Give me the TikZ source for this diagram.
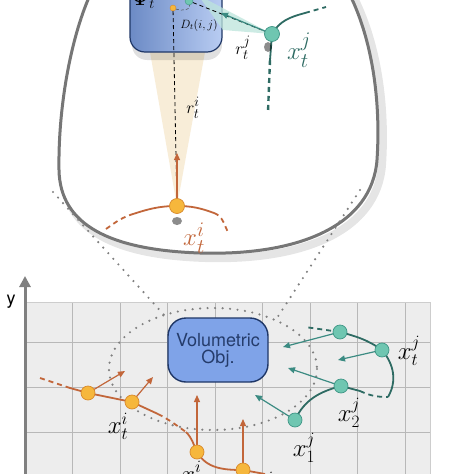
\documentclass[tikz,border=0pt]{standalone}
\usepackage{fontspec}
\newfontfamily\objfont{TeX Gyre Heros}
\usepackage{amsmath}
\usetikzlibrary{arrows.meta, positioning, calc}

\definecolor{trajorange}{HTML}{C2663A}
\definecolor{ptorange}{HTML}{F6B73C}
\definecolor{rimorange}{HTML}{D98A2B}
\definecolor{trajteal}{HTML}{2E6B63}
\definecolor{ptteal}{HTML}{6FC6B1}
\definecolor{rimteal}{HTML}{3F9686}
\definecolor{arrteal}{HTML}{3B8B82}
\definecolor{objblue}{HTML}{7FA3E8}
\definecolor{objedge}{HTML}{1F3767}
\definecolor{objtext}{HTML}{253C6B}
\definecolor{gridbg}{HTML}{EDEDED}
\definecolor{gridline}{HTML}{B8B8B8}
\definecolor{blobgray}{HTML}{767676}
\definecolor{conebeige}{HTML}{F8EDD8}
\definecolor{coneteal}{HTML}{BDE5DC}

\begin{document}
\begin{tikzpicture}[x=1pt, y=-1pt,
  pti/.style={circle, fill=ptorange, draw=rimorange, line width=0.7pt, minimum size=14pt, inner sep=0pt},
  ptj/.style={circle, fill=ptteal, draw=rimteal, line width=0.7pt, minimum size=14pt, inner sep=0pt},
  curvei/.style={draw=trajorange, line width=1.8pt},
  curvej/.style={draw=trajteal, line width=1.8pt},
  dashi/.style={curvei, dash pattern=on 5pt off 4pt},
  dashj/.style={curvej, dash pattern=on 5pt off 4pt},
  veci/.style={-{Triangle[length=7pt, width=6pt]}, trajorange, line width=1.2pt},
  vecj/.style={-{Triangle[length=7pt, width=6pt]}, arrteal, line width=1.2pt},
  dots/.style={draw=gray, line width=2.4pt, line cap=round, dash pattern=on 0pt off 7.5pt},
  ray/.style={black, line width=0.8pt, dash pattern=on 4pt off 3pt},
  lbl/.style={inner sep=0pt, font=\fontsize{26}{26}\selectfont},
  objbox/.style={rounded corners=18pt, fill=objblue, draw=objedge, line width=1.4pt,
    minimum width=100pt, minimum height=64pt, inner sep=0pt, align=center,
    text=objtext, font=\objfont\fontsize{18}{17}\selectfont},
  topbox/.style={rounded corners=15pt, left color=objblue!85!black, right color=objblue!55!white,
    draw=objedge, line width=1.2pt, minimum width=92pt, minimum height=80pt}
  ]
  \useasboundingbox (0,0) rectangle (474,474);
  \clip (0,0) rectangle (474,474);

  % magnified view
  \draw[black, opacity=0.1, line width=8pt, shift={(5,5)}]
    (90,-5) .. controls (70,40) and (58,110) .. (59,170)
    .. controls (60,225) and (110,250) .. (200,253)
    .. controls (300,256) and (372,225) .. (377,160)
    .. controls (381,100) and (372,40) .. (350,-5);
  \filldraw[fill=white, draw=blobgray, line width=3pt]
    (90,-5) .. controls (70,40) and (58,110) .. (59,170)
    .. controls (60,225) and (110,250) .. (200,253)
    .. controls (300,256) and (372,225) .. (377,160)
    .. controls (381,100) and (372,40) .. (350,-5);

  % cone of the ray to x_t^i
  \fill[conebeige] (150,52) -- (205,52) -- (177,206) -- cycle;

  % camera box
  \fill[black, opacity=0.12, rounded corners=15pt] (132,-20) rectangle (222,60);
  \node[topbox] (cam) at (176,12) {};
  \node[anchor=base west, inner sep=0pt, font=\fontsize{20}{20}\selectfont] (psi) at (131,5) {$\boldsymbol{\Psi}_t$};
  \fill[coneteal, opacity=0.75] (272,34) -- (198,-5) -- (223,30) -- cycle;

  \coordinate (xtopc) at (177,206);
  \coordinate (xjtopc) at (272,34);
  \coordinate (xtopend) at (177,153);
  \coordinate (xjtopend) at (221,13);

  \node[circle, fill=ptorange, draw=rimorange, minimum size=6pt, inner sep=0pt] (pixi) at (173,8) {};
  \node[circle, fill=ptteal, draw=rimteal, minimum size=8pt, inner sep=0pt] (pixj) at (189,1) {};
  \draw[densely dashed, gray!60!black, line width=0.5pt] (pixi) to[out=-20, in=-80] (pixj);
  \node[font=\fontsize{12}{12}\selectfont] (dlabel) at (199,25) {$D_t(i,j)$};

  % rays
  \draw[ray] (pixi) -- (xtopc);
  \draw[ray] (pixj) -- (xjtopc);
  \draw[veci] (xtopc) -- (xtopend);
  \draw[vecj] (xjtopc) -- (xjtopend);

  % local trajectories
  \draw[dashi] (106,229) to[out=35, in=-160] (130,215);
  \draw[curvei] (130,215) to[out=18, in=180] (xtopc) to[out=0, in=160] (214,213);
  \draw[dashi] (214,213) to[out=-20, in=120] (229,234);
  \draw[curvej] (xjtopc) to[out=60, in=-165] (305,13);
  \draw[dashj] (305,13) -- (326,7);
  \draw[curvej] (xjtopc) -- (270,60);
  \draw[curvej, line width=2.4pt, dash pattern=on 5pt off 4pt] (270,60) -- (268,112);

  \fill[black, opacity=0.45] (177,221) ellipse [x radius=5, y radius=4];
  \fill[black, opacity=0.45] (268,47) ellipse [x radius=4, y radius=5];
  \node[pti, minimum size=15pt] (xtop) at (xtopc) {};
  \node[ptj, minimum size=15pt] (xjtop) at (xjtopc) {};

  \node[inner sep=0pt, font=\fontsize{19}{19}\selectfont] (rjl) at (243,48) {$r_t^j$};
  \node[inner sep=0pt, font=\fontsize{19}{19}\selectfont] (ril) at (193,108) {$r_t^i$};
  \node[inner sep=0pt, text=trajteal, font=\fontsize{30}{30}\selectfont] (xjl) at (299,50) {$x_t^j$};
  \node[inner sep=0pt, text=trajorange, font=\fontsize{30}{30}\selectfont] (xil) at (194,238) {$x_t^i$};

  % grid
  \fill[gridbg] (25,302) rectangle (430,480);
  \foreach \gx in {72.5,120,167.5,215,262.5,310,357.5,405}
    \draw[gridline, line width=0.9pt] (\gx,302) -- (\gx,480);
  \foreach \gy in {342,387,432}
    \draw[gridline, line width=0.9pt] (25,\gy) -- (430,\gy);
  \draw[gridline!70, line width=0.6pt] (25,302) -- (430,302) -- (430,480);
  \draw[gray, line width=3pt, -{Triangle[length=11pt, width=11pt]}] (25,480) -- (25,276);
  \node[font=\objfont\fontsize{18}{18}\selectfont] (ylab) at (11,302) {y};

  % zoom lines
  \draw[dots] (213,369) ellipse [x radius=104, y radius=61];
  \draw[dots] (53,192) -- (165,316);
  \draw[dots] (360,190) -- (277,318);

  % trajectory i
  \coordinate (i1) at (88,393);
  \coordinate (i2) at (132,402);
  \coordinate (i3) at (197,452);
  \coordinate (i4) at (243,470);
  \draw[dashi] (40,378) -- (70,388);
  \draw[curvei] (70,388) -- (i1) -- (i2) -- (158,414);
  \draw[dashi] (158,414) to[out=-27, in=145] (186,432);
  \draw[curvei] (186,432) to[out=-45, in=115] (i3) to[out=-60, in=180] (i4) -- (265,474);
  \coordinate (i1end) at (125,371);
  \coordinate (i2end) at (153,377);
  \coordinate (i3end) at (197,395);
  \coordinate (i4end) at (243,419);
  \draw[veci] (i1) -- (i1end);
  \draw[veci] (i2) -- (i2end);
  \draw[veci] (i3) -- (i3end);
  \draw[veci] (i4) -- (i4end);
  \node[pti] (i1dot) at (i1) {};
  \node[pti] (i2dot) at (i2) {};
  \node[pti] (i3dot) at (i3) {};
  \node[pti] (i4dot) at (i4) {};

  % trajectory j
  \coordinate (j1) at (295,420);
  \coordinate (j2) at (341,386);
  \coordinate (jt) at (382,350);
  \coordinate (jn) at (340,332);
  \draw[curvej] (j1) to[out=65, in=-165] (j2) -- (360,391);
  \draw[dashj] (360,391) to[out=-25, in=180] (388,397);
  \draw[curvej] (388,397) to[out=60, in=-50] (jt) to[out=145, in=-15] (jn);
  \draw[dashj] (jn) -- (305,327);
  \coordinate (j1end) at (255,395);
  \coordinate (j2end) at (288,368);
  \coordinate (jtend) at (338,360);
  \coordinate (jnend) at (283,347);
  \draw[vecj] (j1) -- (j1end);
  \draw[vecj] (j2) -- (j2end);
  \draw[vecj] (jt) -- (jtend);
  \draw[vecj] (jn) -- (jnend);
  \node[ptj] (j1dot) at (j1) {};
  \node[ptj] (j2dot) at (j2) {};
  \node[ptj] (jtdot) at (jt) {};
  \node[ptj] (jndot) at (jn) {};

  % object
  \node[objbox] (vol) at (218,350) {Volumetric\\Obj.};

  % labels
  \node[lbl] (li2) at (118,426) {$x_t^i$};
  \node[lbl, anchor=base west] (li3) at (181,482) {$x_2^i$};
  \node[lbl, anchor=base west] (li4) at (253,493) {$x_1^i$};
  \node[lbl] (lj1) at (304,448) {$x_1^j$};
  \node[lbl] (lj2) at (349,413) {$x_2^j$};
  \node[lbl] (ljt) at (409,351) {$x_t^j$};
\end{tikzpicture}
\end{document}
